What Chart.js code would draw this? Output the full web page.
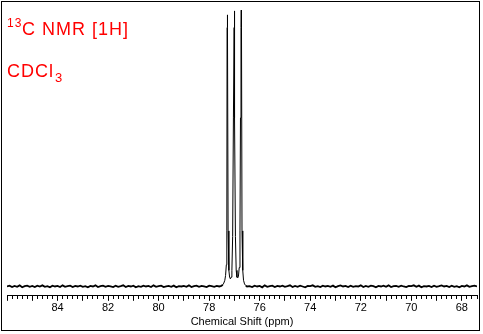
<!DOCTYPE html>
<html>
<head>
<meta charset="utf-8">
<script src="https://cdn.jsdelivr.net/npm/chart.js@4"></script>
<style>
  body { margin: 0; background: #fff; }
  canvas { display: block; }
</style>
</head>
<body>
<canvas id="nmrChart" width="483" height="334"></canvas>
<script>
// axis range (ppm), drawn high -> low
const shiftMax = 86.0;
const shiftMin = 67.4;
const labelMax = 84; // no label at the left bound

// baseline noise, one value every 0.1 ppm
const noiseStep = 0.1;
const noiseLeftStart = 86.0;
const noiseLeft = [
  0.3, 0.6, 0.1, 0.5, 0.2, 0.7, 0.0, 0.4, 0.6, 0.2,
  0.5, 0.1, 0.6, 0.3, 0.7, 0.2, 0.4, 0.0, 0.6, 0.3,
  0.5, 0.1, 0.7, 0.2, 0.4, 0.6, 0.1, 0.5, 0.3, 0.6,
  0.2, 0.4, 0.0, 0.5, 0.3, 0.7, 0.1, 0.4, 0.6, 0.2,
  0.5, 0.3, 0.1, 0.6, 0.2, 0.4, 0.7, 0.1, 0.5, 0.3,
  0.6, 0.0, 0.4, 0.2, 0.6, 0.3, 0.5, 0.1, 0.7, 0.2,
  0.4, 0.6, 0.1, 0.3, 0.5, 0.2, 0.6, 0.0, 0.4, 0.3,
  0.5, 0.2, 0.7, 0.1, 0.4, 0.6, 0.2, 0.5, 0.3, 0.1,
  0.6, 0.4, 0.2, 0.5
];
const noiseRightStart = 76.4;
const noiseRight = [
  0.4, 0.1, 0.6, 0.3, 0.5, 0.0, 0.7, 0.2, 0.4, 0.6,
  0.1, 0.5, 0.3, 0.6, 0.2, 0.4, 0.7, 0.1, 0.5, 0.2,
  0.6, 0.3, 0.0, 0.5, 0.4, 0.7, 0.2, 0.4, 0.1, 0.6,
  0.3, 0.5, 0.2, 0.6, 0.0, 0.4, 0.7, 0.3, 0.5, 0.1,
  0.6, 0.2, 0.4, 0.3, 0.7, 0.1, 0.5, 0.2, 0.6, 0.4,
  0.0, 0.5, 0.3, 0.6, 0.2, 0.7, 0.1, 0.4, 0.5, 0.2,
  0.6, 0.3, 0.1, 0.5, 0.4, 0.7, 0.2, 0.6, 0.0, 0.4,
  0.3, 0.5, 0.1, 0.6, 0.2, 0.4, 0.7, 0.3, 0.5, 0.1,
  0.6, 0.2, 0.4, 0.0, 0.5, 0.3, 0.7, 0.2, 0.4, 0.6,
  0.3
];

// CDCl3 triplet
const peakShift = [
  77.60, 77.52, 77.46, 77.42, 77.38, 77.35, 77.32, 77.30, 77.29, 77.28, 77.27, 77.25,
  77.22, 77.19, 77.16, 77.13, 77.10, 77.07, 77.04, 77.01, 77.00, 76.99, 76.96,
  76.93, 76.90, 76.87, 76.84, 76.81, 76.78, 76.76, 76.74, 76.73, 76.72, 76.70,
  76.67, 76.64, 76.60, 76.55, 76.50
];
const peakIntensity = [
  0.3, 0.5, 0.9, 1.5, 2.5, 4.2, 8, 20, 92, 96.5, 92, 20,
  6, 3.6, 3.0, 3.6, 6, 18, 60, 92, 97.9, 60, 18,
  6, 3.6, 3.3, 4, 7, 20, 60, 92, 98.2, 92, 20,
  6, 2.5, 1.2, 0.6, 0.3
];

const points = [];
noiseLeft.forEach((v, i) => points.push({ x: +(noiseLeftStart - i * noiseStep).toFixed(2), y: v }));
peakShift.forEach((s, i) => points.push({ x: s, y: peakIntensity[i] }));
noiseRight.forEach((v, i) => points.push({ x: +(noiseRightStart - i * noiseStep).toFixed(2), y: v }));

function isInt(v) { return Math.abs(v - Math.round(v)) < 1e-6; }

// frame + red annotation text
const decor = {
  id: "decor",
  afterDraw(chart) {
    const c = chart.ctx;
    c.save();
    c.strokeStyle = "#000";
    c.lineWidth = 1;
    c.strokeRect(1.5, 1.5, 478, 329);

    c.fillStyle = "#ff0000";
    c.textBaseline = "alphabetic";
    c.letterSpacing = "1px";
    c.font = '12px "Liberation Sans", Arial, sans-serif';
    c.fillText("13", 7, 27);
    c.font = '18px "Liberation Sans", Arial, sans-serif';
    c.fillText("C NMR [1H]", 22, 35);
    c.fillText("CDCl", 7, 77);
    const w = c.measureText("CDCl").width;
    c.font = '13px "Liberation Sans", Arial, sans-serif';
    c.fillText("3", 7 + w + 1, 82);
    c.restore();
  }
};

new Chart(document.getElementById("nmrChart"), {
  type: "line",
  data: {
    datasets: [
      {
        label: "13C",
        data: points,
        borderColor: "#000",
        borderWidth: 1,
        pointRadius: 0,
        tension: 0,
        fill: false,
        segment: {
          // noise band reads thicker than the peak strokes
          borderWidth: (ctx) => (ctx.p0.parsed.y < 1.2 && ctx.p1.parsed.y < 1.2 ? 1.8 : 1),
        },
      },
    ],
  },
  options: {
    responsive: false,
    animation: false,
    devicePixelRatio: 1,
    layout: {
      padding: { left: 7, right: 6, top: 5, bottom: 5 },
    },
    plugins: {
      legend: { display: false },
      tooltip: { enabled: false },
    },
    scales: {
      x: {
        type: "linear",
        reverse: true,
        min: shiftMin,
        max: shiftMax,
        border: { display: true, color: "#000", width: 1 },
        grid: {
          drawOnChartArea: false,
          drawTicks: true,
          tickLength: 5,
          tickColor: "#000",
          tickWidth: 1,
          tickBorderDash: (ctx) => (ctx.tick && isInt(ctx.tick.value) ? [] : [3, 20]),
        },
        ticks: {
          stepSize: 0.2,
          autoSkip: false,
          maxRotation: 0,
          padding: 2,
          color: "#000",
          font: { family: '"Liberation Sans", Arial, sans-serif', size: 11, lineHeight: 1 },
          callback: (v) =>
            isInt(v) && Math.round(v) % 2 === 0 && v <= labelMax ? String(Math.round(v)) : "",
        },
        title: {
          display: true,
          text: "Chemical Shift (ppm)",
          color: "#000",
          font: { family: '"Liberation Sans", Arial, sans-serif', size: 11 },
          padding: { top: 0, bottom: 0 },
        },
      },
      y: {
        display: false,
        min: -3,
        max: 100,
      },
    },
  },
  plugins: [decor],
});
</script>
</body>
</html>
